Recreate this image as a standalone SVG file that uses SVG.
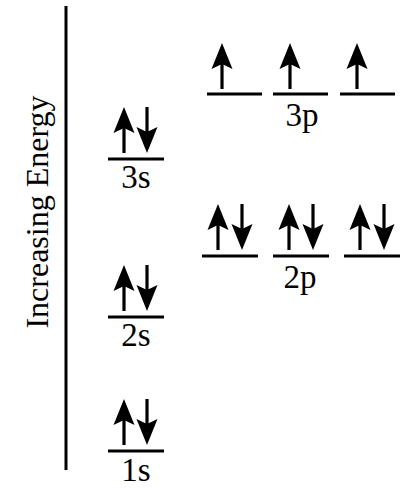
<svg xmlns="http://www.w3.org/2000/svg" xmlns:xlink="http://www.w3.org/1999/xlink" width="420" height="492" viewBox="0 0 420 492">
<style>
.lvl{stroke:#000;stroke-width:3;fill:none}
.axis{stroke:#000;stroke-width:3;fill:none}
.lbl{font-family:"Liberation Serif","Times New Roman",serif;font-size:33px;fill:#000;text-anchor:middle}
.ttl{font-family:"Liberation Serif","Times New Roman",serif;font-size:32px;fill:#000;text-anchor:middle}
</style>
<defs>
<g id="up">
<line x1="0" y1="18" x2="0" y2="46" stroke="#000" stroke-width="3.2"/>
<path d="M0,0 L10.5,26 L0,21 L-10.5,26 Z" fill="#000"/>
</g>
<g id="down">
<line x1="0" y1="0" x2="0" y2="28" stroke="#000" stroke-width="3.2"/>
<path d="M0,46 L10.5,20 L0,25 L-10.5,20 Z" fill="#000"/>
</g>
</defs>
<rect width="420" height="492" fill="#fff"/>
<g id="axis">
<line class="axis" x1="66" y1="6" x2="66" y2="470"/>
<text class="ttl" transform="translate(48,212) rotate(-90)">Increasing Energy</text>
</g>
<g id="orb-1s">
<line class="lvl" x1="108" y1="451" x2="164" y2="451"/>
<use xlink:href="#up" x="124" y="399"/>
<use xlink:href="#down" x="147" y="399"/>
<text class="lbl" x="136" y="481">1s</text>
</g>
<g id="orb-2s">
<line class="lvl" x1="108" y1="317" x2="164" y2="317"/>
<use xlink:href="#up" x="124" y="265"/>
<use xlink:href="#down" x="147" y="265"/>
<text class="lbl" x="136" y="346">2s</text>
</g>
<g id="orb-3s">
<line class="lvl" x1="108" y1="159" x2="164" y2="159"/>
<use xlink:href="#up" x="124" y="107"/>
<use xlink:href="#down" x="147" y="107"/>
<text class="lbl" x="136" y="188">3s</text>
</g>
<g id="orb-2p">
<line class="lvl" x1="202" y1="256" x2="258" y2="256"/>
<line class="lvl" x1="273" y1="256" x2="329" y2="256"/>
<line class="lvl" x1="344" y1="256" x2="400" y2="256"/>
<use xlink:href="#up" x="218" y="204"/>
<use xlink:href="#down" x="242" y="204"/>
<use xlink:href="#up" x="289" y="204"/>
<use xlink:href="#down" x="313" y="204"/>
<use xlink:href="#up" x="360" y="204"/>
<use xlink:href="#down" x="384" y="204"/>
<text class="lbl" x="300" y="288">2p</text>
</g>
<g id="orb-3p">
<line class="lvl" x1="207" y1="94" x2="262" y2="94"/>
<line class="lvl" x1="273" y1="94" x2="328" y2="94"/>
<line class="lvl" x1="340" y1="94" x2="395" y2="94"/>
<use xlink:href="#up" x="222" y="43"/>
<use xlink:href="#up" x="290" y="43"/>
<use xlink:href="#up" x="357" y="43"/>
<text class="lbl" x="302" y="126">3p</text>
</g>
<g id="connectors"></g>
</svg>
